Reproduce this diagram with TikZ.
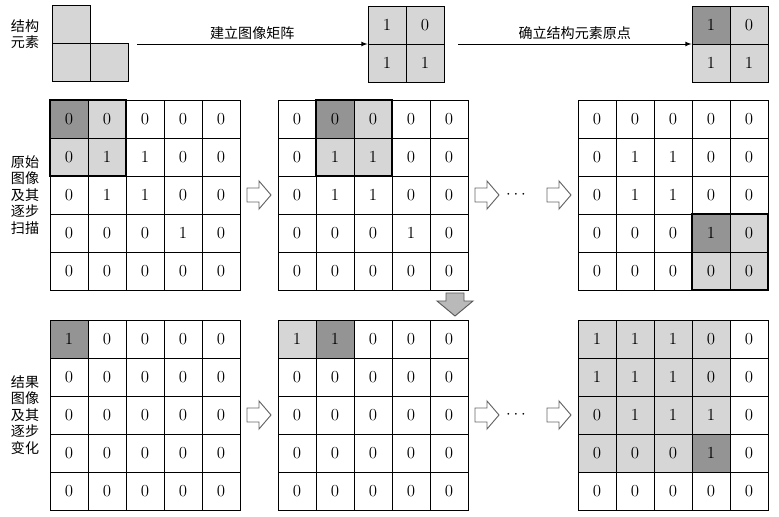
\documentclass[tikz,border=0pt]{standalone}
\usepackage{fontspec}
\newfontfamily\cjk{Noto Sans CJK SC}
\usetikzlibrary{positioning}
\definecolor{lightcell}{gray}{0.84}
\definecolor{darkcell}{gray}{0.58}

% one filled cell of a grid: origin x, origin y, row, column, colour
\newcommand\cellfill[5]{\fill[#5] ({#1+38*(#4-1)},{#2+38*(#3-1)}) rectangle ++(38,38);}
% a 5x5 grid of numbers with its top left corner at (#1,#2)
\newcommand\numgrid[3]{%
  \foreach \row [count=\r] in {#3}{
    \foreach \v [count=\c] in \row {
      \node[cellbox] (#1-\r-\c) at ({#1+38*(\c-1)+19},{#2+38*(\r-1)+19}) {\v};
    }
  }}
\newcommand\openarrow[2]{\draw[thick, gray!80!black, fill=white] (#1,#2-7) -- ++(12,0) -- ++(0,-7) -- ++(12,14) -- ++(-12,14) -- ++(0,-7) -- ++(-12,0) -- cycle;}

\begin{document}
\begin{tikzpicture}[
        x=0.03cm, y=-0.03cm,
        cellbox/.style={rectangle, draw, thick, minimum size=1.14cm, inner sep=0pt, font=\Large},
        label/.style={font=\cjk\large, align=center, text width=1.2cm},
        steparrow/.style={-latex, thick}
    ]
        \useasboundingbox (0,0) rectangle (779,517);

        % structuring element
        \fill[lightcell] (52,5) rectangle ++(38,38);
        \fill[lightcell] (52,43) rectangle ++(76,38);
        \draw[thick] (52,5) -- (90,5) -- (90,43) -- (128,43) -- (128,81) -- (52,81) -- cycle;
        \draw[thick] (52,43) -- (90,43) -- (90,81);
        \node[label] (selabel) at (25,34) {结构\\元素};

        \node[cellbox, fill=lightcell] (m11) at (387,25) {1};
        \node[cellbox, fill=lightcell] (m12) at (425,25) {0};
        \node[cellbox, fill=lightcell] (m21) at (387,63) {1};
        \node[cellbox, fill=lightcell] (m22) at (425,63) {1};

        \node[cellbox, fill=darkcell] (o11) at (711,25) {1};
        \node[cellbox, fill=lightcell] (o12) at (749,25) {0};
        \node[cellbox, fill=lightcell] (o21) at (711,63) {1};
        \node[cellbox, fill=lightcell] (o22) at (749,63) {1};

        \coordinate (a1) at (137,44);
        \coordinate (a2) at (458,44);
        \draw[steparrow] (a1) -- (m21.north west |- a1) node[midway, above, font=\cjk\large] {建立图像矩阵};
        \draw[steparrow] (a2) -- (o21.north west |- a2) node[midway, above, font=\cjk\large] {确立结构元素原点};

        % original image, scanned step by step
        \node[label] (scanlabel) at (25,195) {原始\\图像\\及其\\逐步\\扫描};
        \cellfill{50}{100}{1}{1}{darkcell}
        \cellfill{50}{100}{1}{2}{lightcell}
        \cellfill{50}{100}{2}{1}{lightcell}
        \cellfill{50}{100}{2}{2}{lightcell}
        \numgrid{50}{100}{{0,0,0,0,0},{0,1,1,0,0},{0,1,1,0,0},{0,0,0,1,0},{0,0,0,0,0}}
        \draw[very thick] (50,100) rectangle ++(76,76);

        \cellfill{278}{100}{1}{2}{darkcell}
        \cellfill{278}{100}{1}{3}{lightcell}
        \cellfill{278}{100}{2}{2}{lightcell}
        \cellfill{278}{100}{2}{3}{lightcell}
        \numgrid{278}{100}{{0,0,0,0,0},{0,1,1,0,0},{0,1,1,0,0},{0,0,0,1,0},{0,0,0,0,0}}
        \draw[very thick] (316,100) rectangle ++(76,76);

        \cellfill{578}{100}{4}{4}{darkcell}
        \cellfill{578}{100}{4}{5}{lightcell}
        \cellfill{578}{100}{5}{4}{lightcell}
        \cellfill{578}{100}{5}{5}{lightcell}
        \numgrid{578}{100}{{0,0,0,0,0},{0,1,1,0,0},{0,1,1,0,0},{0,0,0,1,0},{0,0,0,0,0}}
        \draw[very thick] (692,214) rectangle ++(76,76);

        \openarrow{247}{195}
        \openarrow{475}{195}
        \node (dots1) at (516,195) {\Large$\cdots$};
        \openarrow{547}{195}

        % move down to the result
        \draw[thick, gray!70!black, fill=gray!55] (446,293) -- ++(18,0) -- ++(0,8) -- ++(9,0) -- ++(-18,15) -- ++(-18,-15) -- ++(9,0) -- cycle;

        % resulting image, changed step by step
        \node[label] (resultlabel) at (25,415) {结果\\图像\\及其\\逐步\\变化};
        \cellfill{50}{320}{1}{1}{darkcell}
        \numgrid{50}{320}{{1,0,0,0,0},{0,0,0,0,0},{0,0,0,0,0},{0,0,0,0,0},{0,0,0,0,0}}

        \cellfill{278}{320}{1}{1}{lightcell}
        \cellfill{278}{320}{1}{2}{darkcell}
        \numgrid{278}{320}{{1,1,0,0,0},{0,0,0,0,0},{0,0,0,0,0},{0,0,0,0,0},{0,0,0,0,0}}

        \fill[lightcell] (578,320) rectangle ++(152,152);
        \cellfill{578}{320}{4}{4}{darkcell}
        \numgrid{578}{320}{{1,1,1,0,0},{1,1,1,0,0},{0,1,1,1,0},{0,0,0,1,0},{0,0,0,0,0}}

        \openarrow{247}{415}
        \openarrow{475}{415}
        \node (dots2) at (516,415) {\Large$\cdots$};
        \openarrow{547}{415}
    \end{tikzpicture}
\end{document}
